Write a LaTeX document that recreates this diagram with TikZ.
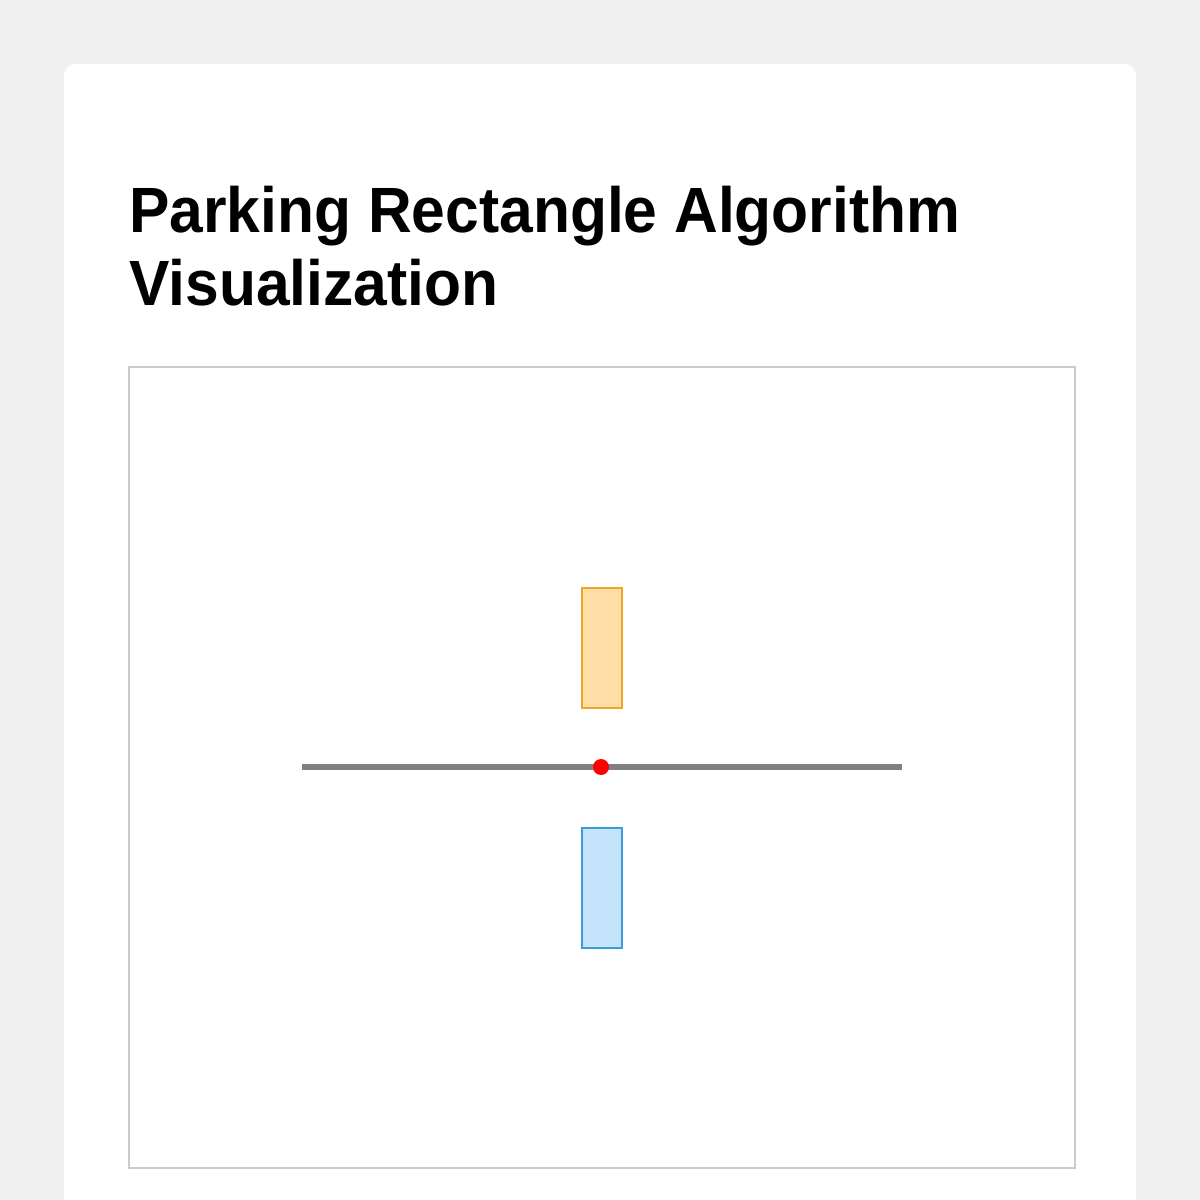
\documentclass[tikz,border=0pt]{standalone}
\usepackage{fontspec}
\setmainfont{Liberation Sans}
\newfontfamily\titlefont[FakeStretch=0.946]{Liberation Sans}
\definecolor{bg}{HTML}{F0F0F0}
\definecolor{frame}{HTML}{CCCCCC}
\definecolor{axis}{HTML}{808080}
\definecolor{ofill}{HTML}{FFDFA6}
\definecolor{oline}{HTML}{F0A526}
\definecolor{bfill}{HTML}{C5E4FC}
\definecolor{bline}{HTML}{3C9BDC}
\begin{document}
\begin{tikzpicture}[x=0.5pt,y=-0.5pt,
  titletext/.style={anchor=base west,inner sep=0pt,font=\titlefont\fontsize{32}{36}\selectfont\bfseries},
  rectbox/.style={line width=1pt}]
\useasboundingbox (0,0) rectangle (1200,1200);
\fill[bg] (0,0) rectangle (1200,1200);
\fill[white,rounded corners=6pt] (64,64) rectangle (1136,1230);
\node[titletext] (t1) at (129,232) {Parking Rectangle Algorithm};
\node[titletext] (t2) at (129,305) {Visualization};
\draw[frame,line width=1pt] (129,367) rectangle (1075,1168);
\coordinate (la) at (302,767);
\coordinate (lb) at (902,767);
\draw[axis,line width=3pt] (la) -- (lb);
\draw[rectbox,fill=ofill,draw=oline] (582,588) rectangle (622,708);
\draw[rectbox,fill=bfill,draw=bline] (582,828) rectangle (622,948);
\fill[red] (601,767) circle[radius=4pt];
\end{tikzpicture}
\end{document}
